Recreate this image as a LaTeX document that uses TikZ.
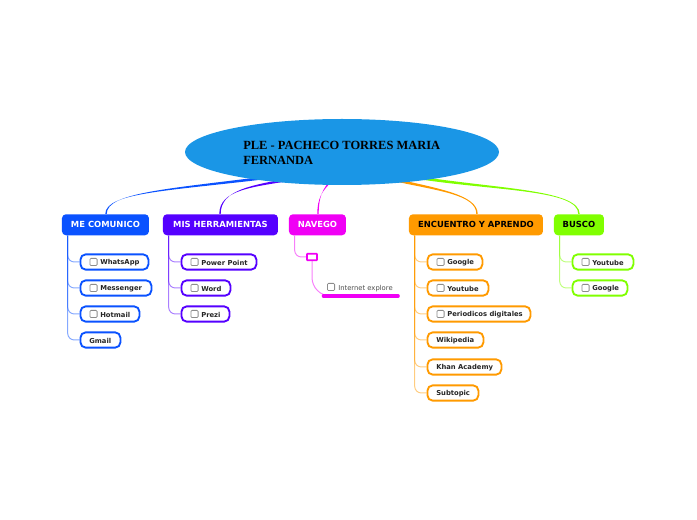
\documentclass[tikz,border=0pt]{standalone}
\usepackage{fontspec}
\setmainfont{DejaVu Sans}
\newfontfamily\rootfont{Liberation Serif}
\usetikzlibrary{calc,backgrounds,shapes.geometric}
\definecolor{cblue}{HTML}{0A52FF}
\definecolor{cpurple}{HTML}{5500FF}
\definecolor{cmag}{HTML}{F000F5}
\definecolor{corange}{HTML}{FF9A00}
\definecolor{cgreen}{HTML}{80FF00}
\definecolor{croot}{HTML}{1A96E6}
\tikzset{
  x=0.75pt,y=-0.75pt,
  mainbox/.style={rounded corners=3pt,inner sep=0pt,minimum height=15.75pt,text height=4pt,text depth=0pt,font=\bfseries\fontsize{6.3pt}{7pt}\selectfont},
  subbox/.style={draw,line width=1.4pt,rounded corners=4pt,fill=white,inner sep=0pt,minimum height=11.5pt},
  subtext/.style={anchor=west,inner sep=0pt,text=black!85,font=\bfseries\fontsize{5.1pt}{6pt}\selectfont},
  checkbox/.style={draw=black!45,line width=0.6pt,rounded corners=0.8pt,fill=white,inner sep=0pt,minimum size=5.4pt},
  branch/.style={line width=0.75pt,rounded corners=5pt,draw opacity=0.5},
}
% #1 name, #2 x1, #3 x2, #4 y, #5 colour, #6 text
\newcommand{\chksub}[6]{%
  \node[subbox,draw=#5,anchor=west,minimum width={(#3-#2-2)*0.75pt}] (#1) at (#2+0.5,#4) {};
  \node[checkbox] (#1-c) at (#2+14.5,#4) {};
  \node[subtext] (#1-t) at (#2+21,#4+0.7) {#6};
}
\newcommand{\plainsub}[6]{%
  \node[subbox,draw=#5,anchor=west,minimum width={(#3-#2-2)*0.75pt}] (#1) at (#2+0.5,#4) {};
  \node[subtext] (#1-t) at (#2+10,#4+0.7) {#6};
}
% #1 colour, #2 from, #3 ctrl1, #4 ctrl2, #5 to
\newcommand{\taper}[5]{%
  \fill[#1] ($(#2)+(0,-1.4)$) .. controls ($(#3)+(0,-1.1)$) and ($(#4)+(0.6,0)$) .. ($(#5)+(0.7,0)$)
     -- ($(#5)+(-0.7,0)$) .. controls ($(#4)+(-0.6,0)$) and ($(#3)+(0,1.1)$) .. ($(#2)+(0,1.4)$) -- cycle;
}
\begin{document}
\begin{tikzpicture}
\useasboundingbox (0,0) rectangle (697,520);
% root
\node[ellipse,fill=croot,inner sep=0pt,minimum width=235.5pt,minimum height=49.5pt] (root) at (342,152) {};
\node[anchor=west,inner sep=0pt,align=left,text=black,font=\rootfont\bfseries\fontsize{9.35pt}{11.3pt}\selectfont] (roottext) at (243,152.5) {PLE - PACHECO TORRES MARIA\\FERNANDA};
% main topics
\node[mainbox,fill=cblue,text=white,anchor=north west,minimum width={87*0.75pt}] (me) at (61.7,214) {ME COMUNICO};
\node[mainbox,fill=cpurple,text=white,anchor=north west,minimum width={115*0.75pt}] (mis) at (162.7,214) {MIS HERRAMIENTAS};
\node[mainbox,fill=cmag,text=white,anchor=north west,minimum width={57*0.75pt}] (nav) at (288.7,214) {NAVEGO};
\node[mainbox,fill=corange,text=black,anchor=north west,minimum width={134*0.75pt}] (enc) at (408.7,214) {ENCUENTRO Y APRENDO};
\node[mainbox,fill=cgreen,text=black,anchor=north west,minimum width={50*0.75pt}] (bus) at (553.7,214) {BUSCO};
% subtopics
\chksub{wa}{79}{149}{262}{cblue}{WhatsApp}
\chksub{ms}{79}{152}{288}{cblue}{Messenger}
\chksub{hm}{79}{140}{314}{cblue}{Hotmail}
\plainsub{gm}{79}{121}{340}{cblue}{Gmail}
\chksub{pp}{180}{257}{262}{cpurple}{Power Point}
\chksub{wd}{180}{231}{288}{cpurple}{Word}
\chksub{pz}{180}{230}{314}{cpurple}{Prezi}
\chksub{eg}{426}{483}{262}{corange}{Google}
\chksub{ey}{426}{489}{288}{corange}{Youtube}
\chksub{ep}{426}{531}{314}{corange}{Periodicos digitales}
\plainsub{ew}{426}{484}{340}{corange}{Wikipedia}
\plainsub{ek}{426}{502}{367}{corange}{Khan Academy}
\plainsub{es}{426}{479}{393}{corange}{Subtopic}
\chksub{by}{571}{634}{262}{cgreen}{Youtube}
\chksub{bg}{571}{628}{288}{cgreen}{Google}
% navego branch
\node[draw=cmag,line width=1.4pt,fill=white,inner sep=0pt,minimum width={10*0.75pt},minimum height={6.5*0.75pt},rounded corners=0.5pt] (navsub) at (312,257) {};
\node[inner sep=0pt,minimum width={77*0.75pt},minimum height={17*0.75pt},anchor=south west] (ie) at (322,296) {};
\node[checkbox] (ie-c) at (331,287) {};
\node[anchor=west,inner sep=0pt,text=black!70,font=\fontsize{5.1pt}{6pt}\selectfont] (ie-t) at (338,288.5) {Internet explore};
\draw[cmag,line width=2.4pt,line cap=round,shorten <=1pt,shorten >=1pt] (ie.south west) -- (ie.south east);
% connectors
\begin{scope}[on background layer]
\coordinate (r1) at (280,176);
\coordinate (r2) at (300,178);
\coordinate (r3) at (332,180);
\coordinate (r4) at (395,180);
\coordinate (r5) at (420,178);
\coordinate (t1) at (106,214);
\coordinate (t2) at (220,214);
\coordinate (t3) at (318,214);
\coordinate (t4) at (477,214);
\coordinate (t5) at (579,214);
\taper{cblue}{r1}{170,190}{106,192}{t1}
\taper{cpurple}{r2}{250,186}{220,190}{t2}
\taper{cmag}{r3}{322,190}{318,198}{t3}
\taper{corange}{r4}{440,190}{477,195}{t4}
\taper{cgreen}{r5}{500,190}{579,190}{t5}
\coordinate (s1) at ($(me.south west)+(6,0)$);
\coordinate (s2) at ($(mis.south west)+(6,0)$);
\coordinate (s3) at ($(nav.south west)+(6,0)$);
\coordinate (s4) at ($(enc.south west)+(6,0)$);
\coordinate (s5) at ($(bus.south west)+(6,0)$);
\foreach \n in {wa,ms,hm,gm} \draw[branch,cblue] (s1) |- (\n.west);
\foreach \n in {pp,wd,pz} \draw[branch,cpurple] (s2) |- (\n.west);
\foreach \n in {eg,ey,ep,ew,ek,es} \draw[branch,corange] (s4) |- (\n.west);
\foreach \n in {by,bg} \draw[branch,cgreen] (s5) |- (\n.west);
\draw[branch,cmag] (s3) |- (navsub.west);
\draw[branch,cmag,rounded corners=14pt] (navsub.south) |- (ie.south west);
\end{scope}
\end{tikzpicture}
\end{document}
